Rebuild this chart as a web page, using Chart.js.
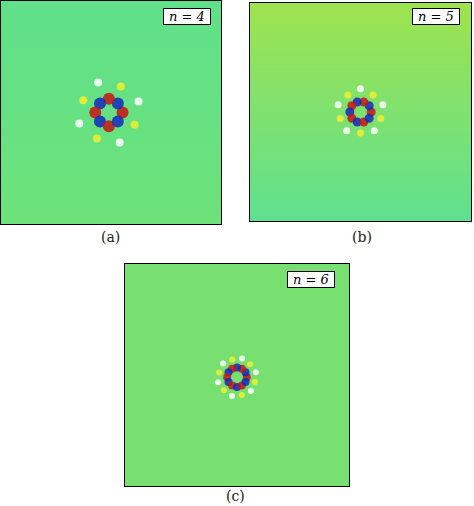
<!DOCTYPE html>
<html><head><meta charset="utf-8">
<script src="https://cdn.jsdelivr.net/npm/chart.js@4"></script>
<style>
body{margin:0;width:474px;height:506px;background:#fff;position:relative;font-family:"DejaVu Serif",serif;}
.p{position:absolute;}
.lab{position:absolute;font-size:14px;color:#222;}
.nb{position:absolute;border:1.5px solid #000;background:#fff;font-size:13px;padding:0 5px;font-style:italic;}
</style></head><body>
<div class="p" style="left:0;top:0;width:222px;height:225px"><canvas id="a"></canvas></div>
<div class="p" style="left:249px;top:2px;width:223px;height:220px"><canvas id="b"></canvas></div>
<div class="p" style="left:124px;top:263px;width:226px;height:224px"><canvas id="c"></canvas></div>
<div class="nb" style="left:163px;top:8px">n = 4</div>
<div class="nb" style="left:412px;top:8px">n = 5</div>
<div class="nb" style="left:287px;top:271px">n = 6</div>
<div class="lab" style="left:101px;top:229px">(a)</div>
<div class="lab" style="left:352px;top:229px">(b)</div>
<div class="lab" style="left:226px;top:488px">(c)</div>
<script>
// lobes: angle (deg), radius (axis units), colour code
const aAngles=[0,45,90,135,180,225,270,315, 20,65,110,155,200,245,290,335];
const aRadii =[0.13,0.12,0.13,0.12,0.13,0.12,0.13,0.12, 0.3,0.27,0.3,0.27,0.3,0.27,0.3,0.27];
const aCols  =['r','b','r','b','r','b','r','b','w','y','w','y','w','y','w','y'];
const bAngles=[0,36,72,108,144,180,216,252,288,324, 18,54,90,126,162,198,234,270,306,342];
const bRadii =[0.1,0.1,0.1,0.1,0.1,0.1,0.1,0.1,0.1,0.1, 0.22,0.2,0.22,0.2,0.22,0.2,0.22,0.2,0.22,0.2];
const bCols  =['r','b','r','b','r','b','r','b','r','b','w','y','w','y','w','y','w','y','w','y'];
const cAngles=[0,30,60,90,120,150,180,210,240,270,300,330, 15,45,75,105,135,165,195,225,255,285,315,345];
const cRadii =[0.09,0.09,0.09,0.09,0.09,0.09,0.09,0.09,0.09,0.09,0.09,0.09, 0.18,0.17,0.18,0.17,0.18,0.17,0.18,0.17,0.18,0.17,0.18,0.17];
const cCols  =['r','b','r','b','r','b','r','b','r','b','r','b','w','y','w','y','w','y','w','y','w','y','w','y'];
const palette={r:'rgba(200,20,20,0.85)',b:'rgba(20,40,190,0.85)',w:'rgba(255,255,255,0.85)',y:'rgba(250,240,40,0.8)'};
const bgs={a:['#5fe08a','#6ee27a'],b:['#9fe34e','#5fe090'],c:['#78e070','#78e070']};
const centers={a:[-0.02,0.0],b:[0.0,0.0],c:[0.0,-0.02]};
const sizes={a:[6,4],b:[4.5,3.5],c:[4,3]};
function make(id,ang,rad,cols){
  const half=ang.length/2;
  const pts=ang.map((t,i)=>({x:centers[id][0]+rad[i]*Math.cos(t*Math.PI/180),y:centers[id][1]+rad[i]*Math.sin(t*Math.PI/180),r:i<half?sizes[id][0]:sizes[id][1]}));
  new Chart(document.getElementById(id),{type:'bubble',
    data:{datasets:[{data:pts,backgroundColor:cols.map(c=>palette[c]),borderWidth:0}]},
    options:{responsive:true,maintainAspectRatio:false,animation:false,layout:{padding:0},
      plugins:{legend:{display:false},tooltip:{enabled:false}},
      scales:{x:{display:false,min:-1,max:1},y:{display:false,min:-1,max:1}}},
    plugins:[{id:'bg',beforeDraw(ch){const c=ch.ctx,w=ch.width,h=ch.height;const g=c.createLinearGradient(0,0,0,h);g.addColorStop(0,bgs[id][0]);g.addColorStop(1,bgs[id][1]);c.fillStyle=g;c.fillRect(0,0,w,h);},
      afterDraw(ch){const c=ch.ctx;c.strokeStyle='#000';c.lineWidth=1;c.strokeRect(0.5,0.5,ch.width-1,ch.height-1);}}]});
}
make('a',aAngles,aRadii,aCols);
make('b',bAngles,bRadii,bCols);
make('c',cAngles,cRadii,cCols);
</script></body></html>
